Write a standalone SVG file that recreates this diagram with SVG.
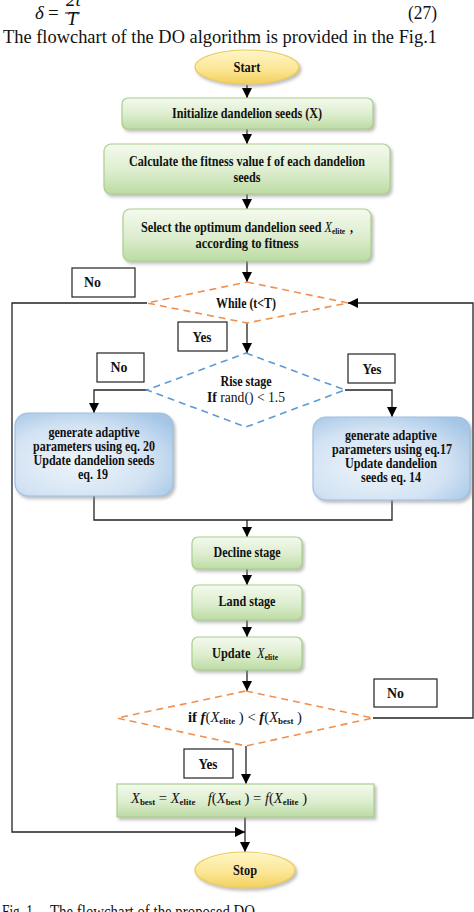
<svg xmlns="http://www.w3.org/2000/svg" width="474" height="912" viewBox="0 0 474 912">
<defs>
<linearGradient id="gGreen" x1="0" y1="0" x2="0" y2="1">
<stop offset="0" stop-color="#f4faef"/>
<stop offset="0.55" stop-color="#dcedcd"/>
<stop offset="1" stop-color="#bcdba3"/>
</linearGradient>
<radialGradient id="gBlue" cx="0.4" cy="0.6" r="0.75">
<stop offset="0" stop-color="#eef4fb"/>
<stop offset="0.6" stop-color="#d3e3f3"/>
<stop offset="1" stop-color="#a4c5e6"/>
</radialGradient>
<linearGradient id="gYellow" x1="0" y1="0" x2="0" y2="1">
<stop offset="0" stop-color="#fff6c8"/>
<stop offset="0.6" stop-color="#fbe592"/>
<stop offset="1" stop-color="#f3cf5c"/>
</linearGradient>
<filter id="sh" x="-10%" y="-10%" width="125%" height="140%">
<feDropShadow dx="2" dy="2.5" stdDeviation="1.5" flood-color="#8a8a8a" flood-opacity="0.55"/>
</filter>
<marker id="arr" markerUnits="userSpaceOnUse" markerWidth="10" markerHeight="10" refX="10" refY="5" orient="auto" viewBox="0 0 10 10">
<path d="M0,0 L10,5 L0,10 z" fill="#000"/>
</marker>
</defs>
<style>
.t{font-family:"Liberation Serif","Times New Roman",serif;font-weight:bold;font-size:14px;fill:#111}
.n{font-weight:normal}
.i{font-style:italic}
.sub{font-size:8.5px}
.green{fill:url(#gGreen);stroke:#a8cf8c;stroke-width:1.2;filter:url(#sh)}
.blue{fill:url(#gBlue);stroke:#9dc0e3;stroke-width:1.2;filter:url(#sh)}
.yel{fill:url(#gYellow);stroke:#eccb5f;stroke-width:1.2;filter:url(#sh)}
.lbl{fill:#fff;stroke:#222;stroke-width:1.2}
.dOr{fill:#fff;stroke:#f0904f;stroke-width:1.6;stroke-dasharray:7,5}
.dBl{fill:#fff;stroke:#5b9bd5;stroke-width:1.6;stroke-dasharray:7,5}
.c{fill:none;stroke:#222;stroke-width:1.3}
.ca{fill:none;stroke:#222;stroke-width:1.3;marker-end:url(#arr)}
.hdr{font-family:"Liberation Serif","Times New Roman",serif;font-size:19px;fill:#111}
</style>

<g id="header">
<text class="hdr i" x="35" y="19" font-size="18">δ</text>
<text class="hdr" x="48" y="19" font-size="18">=</text>
<text class="hdr i" x="66" y="6" font-size="15">2t</text>
<line x1="65" y1="13" x2="80" y2="13" stroke="#111" stroke-width="1"/>
<text class="hdr i" x="67" y="25" font-size="14">T</text>
<text class="hdr" x="408" y="19" font-size="18" textLength="29" lengthAdjust="spacingAndGlyphs">(27)</text>
<text class="hdr" x="3" y="43" textLength="434" lengthAdjust="spacingAndGlyphs">The flowchart of the DO algorithm is provided in the Fig.1</text>
</g>

<g id="connectors">
<line class="ca" x1="247" y1="85" x2="247" y2="98"/>
<line class="ca" x1="247" y1="129" x2="247" y2="144"/>
<line class="ca" x1="247" y1="194" x2="247" y2="209"/>
<line class="ca" x1="247" y1="261" x2="247" y2="282"/>
<line class="ca" x1="247" y1="323" x2="247" y2="353"/>
<polyline class="ca" points="147,390 94,390 94,413"/>
<polyline class="ca" points="345,390 392,390 392,417"/>
<polyline class="c" points="94,496 94,520 392,520 392,500"/>
<line class="ca" x1="247" y1="520" x2="247" y2="537"/>
<line class="ca" x1="247" y1="569" x2="247" y2="585"/>
<line class="ca" x1="247" y1="620" x2="247" y2="637"/>
<line class="ca" x1="247" y1="670" x2="247" y2="691"/>
<line class="ca" x1="246" y1="746" x2="246" y2="784"/>
<line class="ca" x1="245" y1="817" x2="245" y2="852"/>
<polyline class="ca" points="147,303 12,303 12,832 245,832"/>
<polyline class="ca" points="373,718 473,718 473,303 348,303"/>
</g>

<g id="start">
<ellipse class="yel" cx="247" cy="67" rx="52" ry="17"/>
<text class="t" x="247" y="72" text-anchor="middle" textLength="27" lengthAdjust="spacingAndGlyphs">Start</text>
</g>

<g id="init">
<rect class="green" x="122" y="98" width="251" height="31" rx="6"/>
<text class="t" x="247" y="118" text-anchor="middle" textLength="150" lengthAdjust="spacingAndGlyphs">Initialize dandelion seeds (X)</text>
</g>

<g id="fitness">
<rect class="green" x="104" y="144" width="286" height="50" rx="7"/>
<text class="t" x="247" y="166" text-anchor="middle" textLength="236" lengthAdjust="spacingAndGlyphs">Calculate the fitness value f of each dandelion</text>
<text class="t" x="247" y="182" text-anchor="middle" textLength="27" lengthAdjust="spacingAndGlyphs">seeds</text>
</g>

<g id="select">
<rect class="green" x="123" y="209" width="248" height="52" rx="7"/>
<text class="t" x="247" y="232" text-anchor="middle" textLength="212" lengthAdjust="spacingAndGlyphs">Select the optimum dandelion seed <tspan class="n i">X</tspan><tspan class="sub" dy="2">elite</tspan><tspan dy="-2" dx="2"> ,</tspan></text>
<text class="t" x="247" y="248" text-anchor="middle" textLength="103" lengthAdjust="spacingAndGlyphs">according to fitness</text>
</g>

<g id="while">
<polygon class="dOr" points="247,282 348,303 247,323 147,303"/>
<text class="t" x="246" y="308" text-anchor="middle" textLength="60" lengthAdjust="spacingAndGlyphs">While (t&lt;T)</text>
</g>

<g id="lbl-no-while">
<rect class="lbl" x="72" y="268" width="63" height="29"/>
<text class="t" x="84" y="287" textLength="17" lengthAdjust="spacingAndGlyphs">No</text>
</g>

<g id="lbl-yes-while">
<rect class="lbl" x="178" y="322" width="49" height="29"/>
<text class="t" x="202" y="342" text-anchor="middle" textLength="19" lengthAdjust="spacingAndGlyphs">Yes</text>
</g>

<g id="rise">
<polygon class="dBl" points="246,353 345,390 246,427 147,390"/>
<text class="t" x="246" y="386" text-anchor="middle" textLength="51" lengthAdjust="spacingAndGlyphs">Rise stage</text>
<text class="t" x="246" y="402" text-anchor="middle" textLength="78" lengthAdjust="spacingAndGlyphs">If <tspan class="n">rand() &lt; 1.5</tspan></text>
</g>

<g id="lbl-no-rise">
<rect class="lbl" x="97" y="353" width="47" height="29"/>
<text class="t" x="119" y="372" text-anchor="middle" textLength="17" lengthAdjust="spacingAndGlyphs">No</text>
</g>

<g id="lbl-yes-rise">
<rect class="lbl" x="348" y="354" width="47" height="29"/>
<text class="t" x="372" y="374" text-anchor="middle" textLength="19" lengthAdjust="spacingAndGlyphs">Yes</text>
</g>

<g id="adaptive-left">
<rect class="blue" x="15" y="413" width="158" height="83" rx="13"/>
<text class="t" x="94" y="437" text-anchor="middle" textLength="91" lengthAdjust="spacingAndGlyphs">generate adaptive</text>
<text class="t" x="94" y="451" text-anchor="middle" textLength="122" lengthAdjust="spacingAndGlyphs">parameters using eq. 20</text>
<text class="t" x="94" y="465" text-anchor="middle" textLength="121" lengthAdjust="spacingAndGlyphs">Update dandelion seeds</text>
<text class="t" x="93" y="479" text-anchor="middle" textLength="30" lengthAdjust="spacingAndGlyphs">eq. 19</text>
</g>

<g id="adaptive-right">
<rect class="blue" x="313" y="417" width="157" height="83" rx="13"/>
<text class="t" x="391" y="440" text-anchor="middle" textLength="92" lengthAdjust="spacingAndGlyphs">generate adaptive</text>
<text class="t" x="392" y="454" text-anchor="middle" textLength="120" lengthAdjust="spacingAndGlyphs">parameters using eq.17</text>
<text class="t" x="391" y="468" text-anchor="middle" textLength="92" lengthAdjust="spacingAndGlyphs">Update dandelion</text>
<text class="t" x="391" y="482" text-anchor="middle" textLength="60" lengthAdjust="spacingAndGlyphs">seeds eq. 14</text>
</g>

<g id="decline">
<rect class="green" x="192" y="537" width="110" height="32" rx="6"/>
<text class="t" x="247" y="557" text-anchor="middle" textLength="67" lengthAdjust="spacingAndGlyphs">Decline stage</text>
</g>

<g id="land">
<rect class="green" x="192" y="585" width="110" height="35" rx="6"/>
<text class="t" x="247" y="606" text-anchor="middle" textLength="57" lengthAdjust="spacingAndGlyphs">Land stage</text>
</g>

<g id="update">
<rect class="green" x="192" y="637" width="110" height="33" rx="6"/>
<text class="t" x="245" y="658" text-anchor="middle" textLength="66" lengthAdjust="spacingAndGlyphs">Update <tspan class="n i" dx="4">X</tspan><tspan class="sub" dy="2">elite</tspan></text>
</g>

<g id="compare">
<polygon class="dOr" points="246,691 373,718 246,746 117,718"/>
<text class="t" x="245" y="722" text-anchor="middle" textLength="114" lengthAdjust="spacingAndGlyphs">if <tspan class="i">f</tspan><tspan class="n">(</tspan><tspan class="n i">X</tspan><tspan class="sub" dy="2">elite</tspan><tspan class="n" dy="-2"> ) &lt; </tspan><tspan class="i">f</tspan><tspan class="n">(</tspan><tspan class="n i">X</tspan><tspan class="sub" dy="2">best</tspan><tspan class="n" dy="-2"> )</tspan></text>
</g>

<g id="lbl-no-compare">
<rect class="lbl" x="374" y="679" width="63" height="28"/>
<text class="t" x="387" y="698" textLength="17" lengthAdjust="spacingAndGlyphs">No</text>
</g>

<g id="lbl-yes-compare">
<rect class="lbl" x="184" y="749" width="49" height="29"/>
<text class="t" x="208" y="769" text-anchor="middle" textLength="19" lengthAdjust="spacingAndGlyphs">Yes</text>
</g>

<g id="assign">
<rect class="green" x="117" y="784" width="257" height="33"/>
<text class="t n" x="131" y="803" textLength="176" lengthAdjust="spacingAndGlyphs"><tspan class="i">X</tspan><tspan class="sub" font-weight="bold" dy="2">best</tspan><tspan dy="-2"> = </tspan><tspan class="i">X</tspan><tspan class="sub" font-weight="bold" dy="2">elite</tspan><tspan class="i" dy="-2" dx="12">f</tspan>(<tspan class="i">X</tspan><tspan class="sub" font-weight="bold" dy="2">best</tspan><tspan dy="-2"> ) = </tspan><tspan class="i">f</tspan>(<tspan class="i">X</tspan><tspan class="sub" font-weight="bold" dy="2">elite</tspan><tspan dy="-2"> )</tspan></text>
</g>

<g id="stop">
<ellipse class="yel" cx="245" cy="870" rx="50" ry="18"/>
<text class="t" x="245" y="875" text-anchor="middle" textLength="24" lengthAdjust="spacingAndGlyphs">Stop</text>
</g>

<g id="caption">
<text class="hdr" x="2" y="918" font-size="18" textLength="31" lengthAdjust="spacingAndGlyphs">Fig. 1</text>
<text class="hdr" x="50" y="918" font-size="18" textLength="205" lengthAdjust="spacingAndGlyphs">The flowchart of the proposed DO</text>
</g>
</svg>
